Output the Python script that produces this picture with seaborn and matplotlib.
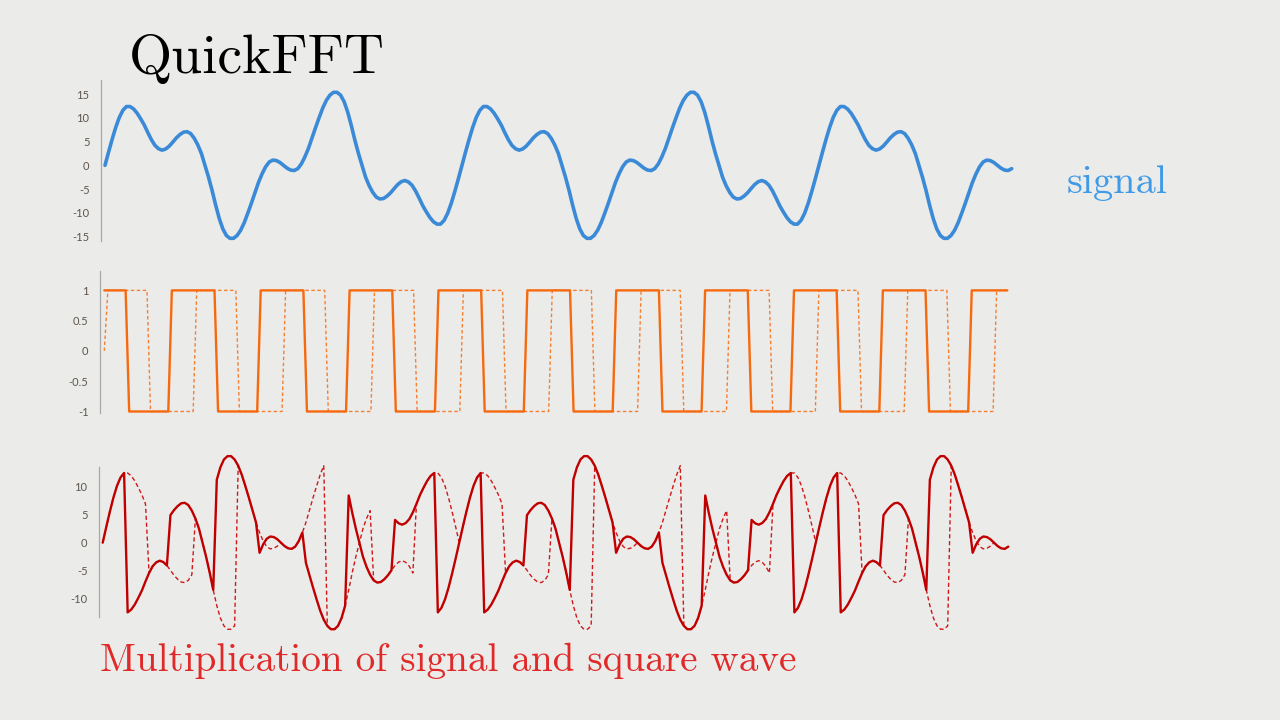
import matplotlib.pyplot as plt
import numpy as np
import seaborn as sns

signal = [
    0.0, 2.8, 5.5, 8.0, 10.1, 11.6, 12.4, 12.4, 11.9, 11.0,
    9.8, 8.5, 6.9, 5.4, 4.2, 3.5, 3.2, 3.45, 4.05, 4.9,
    5.8, 6.5, 7.0, 7.1, 6.7, 5.7, 4.3, 2.5, 0.0, -2.5,
    -5.3, -8.4, -11.2, -13.4, -14.8, -15.4, -15.4, -14.8, -13.7, -12.1,
    -10.1, -8.0, -5.8, -3.6, -1.8, -0.3, 0.7, 1.1, 1.0, 0.6,
    0.0, -0.6, -1.0, -1.1, -0.7, 0.3, 1.8, 3.6, 5.8, 8.0,
    10.1, 12.1, 13.7, 14.8, 15.4, 15.4, 14.8, 13.4, 11.2, 8.4,
    5.3, 2.5, 0.0, -2.5, -4.3, -5.7, -6.7, -7.1, -7.0, -6.5,
    -5.8, -4.9, -4.05, -3.45, -3.2, -3.5, -4.2, -5.4, -6.9, -8.5,
    -9.8, -11.0, -11.9, -12.4, -12.4, -11.6, -10.1, -8.0, -5.5, -2.8,
    0.0, 2.8, 5.5, 8.0, 10.1, 11.6, 12.4, 12.4, 11.9, 11.0,
    9.8, 8.5, 6.9, 5.4, 4.2, 3.5, 3.2, 3.45, 4.05, 4.9,
    5.8, 6.5, 7.0, 7.1, 6.7, 5.7, 4.3, 2.5, 0.0, -2.5,
    -5.3, -8.4, -11.2, -13.4, -14.8, -15.4, -15.4, -14.8, -13.7, -12.1,
    -10.1, -8.0, -5.8, -3.6, -1.8, -0.3, 0.7, 1.1, 1.0, 0.6,
    0.0, -0.6, -1.0, -1.1, -0.7, 0.3, 1.8, 3.6, 5.8, 8.0,
    10.1, 12.1, 13.7, 14.8, 15.4, 15.4, 14.8, 13.4, 11.2, 8.4,
    5.3, 2.5, 0.0, -2.5, -4.3, -5.7, -6.7, -7.1, -7.0, -6.5,
    -5.8, -4.9, -4.05, -3.45, -3.2, -3.5, -4.2, -5.4, -6.9, -8.5,
    -9.8, -11.0, -11.9, -12.4, -12.4, -11.6, -10.1, -8.0, -5.5, -2.8,
    0.0, 2.8, 5.5, 8.0, 10.1, 11.6, 12.4, 12.4, 11.9, 11.0,
    9.8, 8.5, 6.9, 5.4, 4.2, 3.5, 3.2, 3.45, 4.05, 4.9,
    5.8, 6.5, 7.0, 7.1, 6.7, 5.7, 4.3, 2.5, 0.0, -2.5,
    -5.3, -8.4, -11.2, -13.4, -14.8, -15.4, -15.4, -14.8, -13.7, -12.1,
    -10.1, -8.0, -5.8, -3.6, -1.8, -0.3, 0.7, 1.1, 1.0, 0.6,
    0.0, -0.6, -1.0, -1.1, -0.7,
]

# square wave (solid) and the quarter-shifted one (dashed)
square = [
    1, 1, 1, 1, 1, 1, 1, -1, -1, -1, -1, -1, -1, -1, -1, -1, -1, -1, -1, 1, 1, 1, 1, 1, 1,
    1, 1, 1, 1, 1, 1, 1, -1, -1, -1, -1, -1, -1, -1, -1, -1, -1, -1, -1, 1, 1, 1, 1, 1, 1,
    1, 1, 1, 1, 1, 1, 1, -1, -1, -1, -1, -1, -1, -1, -1, -1, -1, -1, -1, 1, 1, 1, 1, 1, 1,
    1, 1, 1, 1, 1, 1, 1, -1, -1, -1, -1, -1, -1, -1, -1, -1, -1, -1, -1, 1, 1, 1, 1, 1, 1,
    1, 1, 1, 1, 1, 1, 1, -1, -1, -1, -1, -1, -1, -1, -1, -1, -1, -1, -1, 1, 1, 1, 1, 1, 1,
    1, 1, 1, 1, 1, 1, 1, -1, -1, -1, -1, -1, -1, -1, -1, -1, -1, -1, -1, 1, 1, 1, 1, 1, 1,
    1, 1, 1, 1, 1, 1, 1, -1, -1, -1, -1, -1, -1, -1, -1, -1, -1, -1, -1, 1, 1, 1, 1, 1, 1,
    1, 1, 1, 1, 1, 1, 1, -1, -1, -1, -1, -1, -1, -1, -1, -1, -1, -1, -1, 1, 1, 1, 1, 1, 1,
    1, 1, 1, 1, 1, 1, 1, -1, -1, -1, -1, -1, -1, -1, -1, -1, -1, -1, -1, 1, 1, 1, 1, 1, 1,
    1, 1, 1, 1, 1, 1, 1, -1, -1, -1, -1, -1, -1, -1, -1, -1, -1, -1, -1, 1, 1, 1, 1, 1, 1,
    1, 1, 1, 1, 1,
]
square_shift = [
    0, 1, 1, 1, 1, 1, 1, 1, 1, 1, 1, 1, 1, -1, -1, -1, -1, -1, -1, -1, -1, -1, -1, -1, -1,
    -1, 1, 1, 1, 1, 1, 1, 1, 1, 1, 1, 1, 1, -1, -1, -1, -1, -1, -1, -1, -1, -1, -1, -1, -1,
    -1, 1, 1, 1, 1, 1, 1, 1, 1, 1, 1, 1, 1, -1, -1, -1, -1, -1, -1, -1, -1, -1, -1, -1, -1,
    -1, 1, 1, 1, 1, 1, 1, 1, 1, 1, 1, 1, 1, -1, -1, -1, -1, -1, -1, -1, -1, -1, -1, -1, -1,
    -1, 1, 1, 1, 1, 1, 1, 1, 1, 1, 1, 1, 1, -1, -1, -1, -1, -1, -1, -1, -1, -1, -1, -1, -1,
    -1, 1, 1, 1, 1, 1, 1, 1, 1, 1, 1, 1, 1, -1, -1, -1, -1, -1, -1, -1, -1, -1, -1, -1, -1,
    -1, 1, 1, 1, 1, 1, 1, 1, 1, 1, 1, 1, 1, -1, -1, -1, -1, -1, -1, -1, -1, -1, -1, -1, -1,
    -1, 1, 1, 1, 1, 1, 1, 1, 1, 1, 1, 1, 1, -1, -1, -1, -1, -1, -1, -1, -1, -1, -1, -1, -1,
    -1, 1, 1, 1, 1, 1, 1, 1, 1, 1, 1, 1, 1, -1, -1, -1, -1, -1, -1, -1, -1, -1, -1, -1, -1,
    -1, 1, 1, 1, 1, 1, 1, 1, 1, 1, 1, 1, 1, -1, -1, -1, -1, -1, -1, -1, -1, -1, -1, -1, -1,
    -1, 1, 1, 1, 1,
]

sig_ticks = [15, 10, 5, 0, -5, -10, -15]
sq_ticks = [1, 0.5, 0, -0.5, -1]
mult_ticks = [10, 5, 0, -5, -10]

n = np.arange(len(signal))
sig = np.array(signal)
mult = sig * np.array(square)
mult_shift = sig * np.array(square_shift)

sns.set_style("white")
plt.rcParams['font.family'] = ['Lato', 'DejaVu Sans']

bg = '#ebebe9'
fig = plt.figure(figsize=(12.8, 7.2), dpi=100)
fig.patch.set_facecolor(bg)

W, H = 1280, 720


def make_axes(left, right, top, bottom):
    return fig.add_axes([left / W, 1 - bottom / H, (right - left) / W, (bottom - top) / H])


def style(ax, ticks, labels, xlim, ylim):
    ax.set_facecolor('none')
    ax.set_xlim(*xlim)
    ax.set_ylim(*ylim)
    ax.set_xticks([])
    ax.set_yticks(ticks)
    ax.set_yticklabels(labels)
    ax.tick_params(axis='y', length=0, pad=8.5, labelsize=8, labelcolor='#5e554c')
    for s in ['top', 'right', 'bottom']:
        ax.spines[s].set_visible(False)
    ax.spines['left'].set_color('#a8a8a8')
    ax.spines['left'].set_linewidth(0.9)
    ax.set_xlabel('')
    ax.set_ylabel('')


# top: signal
ax1 = make_axes(101.3, 1011.7, 80, 240.7)
sns.lineplot(x=n, y=sig, ax=ax1, color='#3a8ad8', linewidth=2.6, clip_on=False,
             solid_joinstyle='round', estimator=None, sort=False)
style(ax1, sig_ticks, [str(t) for t in sig_ticks], (-1.04, 254), (-15.9, 18.0))

# middle: square waves
ax2 = make_axes(100.3, 1007.3, 271, 413.3)
sns.lineplot(x=n, y=square_shift, ax=ax2, color='#f7731f', linewidth=1.0, alpha=0.9,
             linestyle=(0, (2.5, 1.8)), clip_on=False, estimator=None, sort=False)
sns.lineplot(x=n, y=square, ax=ax2, color='#f7690f', linewidth=1.7, clip_on=False,
             estimator=None, sort=False)
style(ax2, sq_ticks, ['1', '0.5', '0', '-0.5', '-1'], (-1.125, 254), (-1.03, 1.32))

# bottom: multiplication
ax3 = make_axes(99.3, 1008.3, 466.7, 616.7)
sns.lineplot(x=n, y=mult_shift, ax=ax3, color='#d01818', linewidth=1.0,
             linestyle=(0, (3, 2)), clip_on=False, estimator=None, sort=False)
sns.lineplot(x=n, y=mult, ax=ax3, color='#c00000', linewidth=1.7, clip_on=False,
             solid_joinstyle='round', estimator=None, sort=False)
style(ax3, mult_ticks, [str(t) for t in mult_ticks], (-0.954, 254), (-13.17, 13.52))

fig.text(129 / W, 1 - 72.7 / H, 'QuickFFT', fontfamily='cmr10', fontsize=40,
         color='black', va='baseline', ha='left')
fig.text(1067 / W, 1 - 192.7 / H, 'signal', fontfamily='cmr10', fontsize=29,
         color='#3f9be8', va='baseline', ha='left')
fig.text(100 / W, 1 - 671 / H, 'Multiplication of signal and square wave',
         fontfamily='cmr10', fontsize=28.2, color='#e02a2a', va='baseline', ha='left')

fig.savefig('out.png', dpi=100, facecolor=bg)
